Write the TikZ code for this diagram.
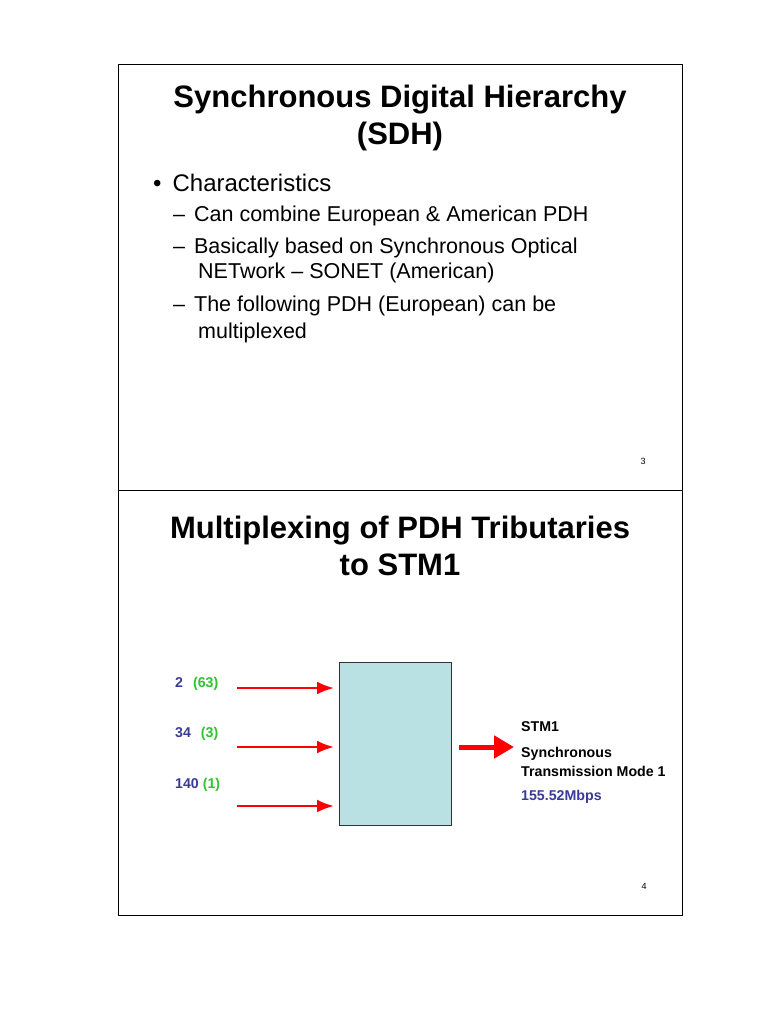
\documentclass[tikz,border=0pt]{standalone}
\usepackage{fontspec}
\setmainfont{Liberation Sans}
\usetikzlibrary{arrows.meta}
\definecolor{boxc}{HTML}{B9E0E3}
\definecolor{blu}{HTML}{3A3A9A}
\definecolor{grn}{HTML}{2EC42E}
\begin{document}
\begin{tikzpicture}[x=1pt,y=-1pt,
 title/.style={font=\fontsize{31}{37}\selectfont\bfseries,align=center},
 txt/.style={anchor=west,inner sep=0pt,font=\fontsize{21.5}{26}\selectfont},
 sm/.style={anchor=west,inner sep=0pt,font=\fontsize{14.2}{16}\selectfont\bfseries},
 inarrow/.style={draw=red,line width=2.5pt,-{Latex[length=17pt,width=13pt]}},
 pn/.style={font=\fontsize{9}{10}\selectfont}]
\useasboundingbox (0,0) rectangle (768,1024);
\fill[white] (0,0) rectangle (768,1024);
\draw[line width=1pt] (118,65) rectangle (682,490);
\draw[line width=1pt] (118,490) rectangle (682,915);
\node[title] (t1) at (400,118) {Synchronous Digital Hierarchy\\(SDH)};
\node[txt,font=\fontsize{24}{28}\selectfont] (b0) at (153,183) {•\hspace{11pt}Characteristics};
\node[txt] (b1) at (173,216) {–\hspace{3pt} Can combine European \& American PDH};
\node[txt] (b2) at (173,248) {–\hspace{3pt} Basically based on Synchronous Optical};
\node[txt] (b2b) at (198,273) {NETwork – SONET (American)};
\node[txt] (b3) at (173,306) {–\hspace{3pt} The following PDH (European) can be};
\node[txt] (b3b) at (198,333) {multiplexed};
\node[pn] (p3) at (643,461) {3};
\node[title] (t2) at (400,546) {Multiplexing of PDH Tributaries\\to STM1};
\node[draw=black!80,fill=boxc,minimum width=112pt,minimum height=163pt,inner sep=0pt,anchor=north west] (mux) at (339,662) {};
\coordinate (s1) at (237,688);
\coordinate (s2) at (237,747);
\coordinate (s3) at (237,806);
\draw[inarrow] (s1) -- ([xshift=-5pt]s1 -| mux.west);
\draw[inarrow] (s2) -- ([xshift=-5pt]s2 -| mux.west);
\draw[inarrow] (s3) -- ([xshift=-5pt]s3 -| mux.west);
\coordinate (oe) at (514,747);
\draw[draw=red,line width=5pt,-{Triangle[length=20pt,width=22pt]}] ([xshift=8pt]mux.east |- oe) -- (oe);
\node[sm] (l1) at (175,684) {\textcolor{blu}{2}\hspace{10pt}\textcolor{grn}{(63)}};
\node[sm] (l2) at (175,734) {\textcolor{blu}{34}\hspace{10pt}\textcolor{grn}{(3)}};
\node[sm] (l3) at (175,785) {\textcolor{blu}{140} \textcolor{grn}{(1)}};
\node[sm] (r1) at (521,727) {STM1};
\node[sm] (r2) at (521,754) {Synchronous};
\node[sm] (r3) at (521,771) {Transmission Mode 1};
\node[sm,text=blu] (r4) at (521,797) {155.52Mbps};
\node[pn] (p4) at (644,886) {4};
\end{tikzpicture}
\end{document}
